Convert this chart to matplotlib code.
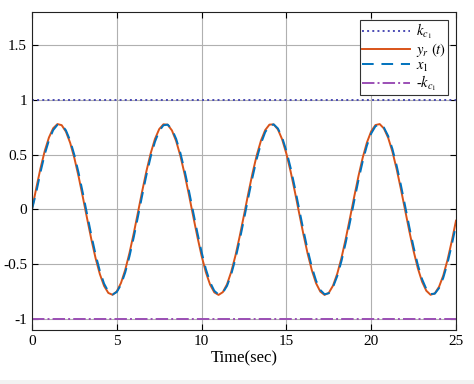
import matplotlib
matplotlib.use("Agg")
import matplotlib.pyplot as plt
from matplotlib.patches import Rectangle

plt.rcParams['font.family'] = ['Liberation Serif', 'DejaVu Serif']
plt.rcParams['mathtext.fontset'] = 'stix'

t = [i * 0.25 for i in range(101)]
y_r = [0.000, 0.193, 0.374, 0.532, 0.656, 0.740, 0.778, 0.768, 0.709, 0.607,
       0.467, 0.298, 0.110, -0.084, -0.274, -0.446, -0.590, -0.698, -0.762, -0.779,
       -0.748, -0.670, -0.550, -0.396, -0.218, -0.026, 0.168, 0.351, 0.512, 0.642,
       0.732, 0.776, 0.772, 0.720, 0.623, 0.487, 0.321, 0.136, -0.059, -0.249,
       -0.424, -0.573, -0.686, -0.757, -0.780, -0.755, -0.683, -0.568, -0.419, -0.243,
       -0.052, 0.143, 0.328, 0.493, 0.627, 0.723, 0.773, 0.775, 0.729, 0.638,
       0.507, 0.345, 0.161, -0.033, -0.225, -0.402, -0.555, -0.674, -0.750, -0.780,
       -0.761, -0.695, -0.586, -0.441, -0.267, -0.078, 0.117, 0.304, 0.472, 0.611,
       0.712, 0.769, 0.778, 0.738, 0.653, 0.527, 0.368, 0.186, -0.007, -0.200,
       -0.380, -0.537, -0.660, -0.742, -0.779, -0.766, -0.706, -0.603, -0.461, -0.291,
       -0.103]
x1 = [0.000, 0.155, 0.338, 0.501, 0.631, 0.723, 0.771, 0.770, 0.721, 0.628,
      0.495, 0.332, 0.148, -0.045, -0.236, -0.412, -0.561, -0.677, -0.749, -0.776,
      -0.754, -0.686, -0.574, -0.427, -0.254, -0.065, 0.129, 0.315, 0.480, 0.616,
      0.714, 0.767, 0.773, 0.731, 0.643, 0.514, 0.354, 0.173, -0.020, -0.211,
      -0.389, -0.543, -0.664, -0.743, -0.776, -0.760, -0.698, -0.591, -0.449, -0.278,
      -0.090, 0.104, 0.291, 0.460, 0.600, 0.704, 0.763, 0.775, 0.738, 0.656,
      0.533, 0.378, 0.198, 0.006, -0.187, -0.367, -0.525, -0.650, -0.735, -0.774,
      -0.765, -0.708, -0.608, -0.470, -0.302, -0.116, 0.078, 0.267, 0.439, 0.583,
      0.692, 0.758, 0.776, 0.746, 0.670, 0.552, 0.400, 0.223, 0.032, -0.162,
      -0.344, -0.506, -0.636, -0.726, -0.772, -0.769, -0.718, -0.624, -0.490, -0.325,
      -0.141]
k_c1 = 1.0

x_ticks = [0, 5, 10, 15, 20, 25]
y_ticks = [-1, -0.5, 0, 0.5, 1, 1.5]
y_tick_labels = ['-1', '-0.5', '0', '0.5', '1', '1.5']

fig = plt.figure(figsize=(4.74, 3.84), dpi=100)
fig.patches.append(Rectangle((0, 0), 1, 4 / 384, transform=fig.transFigure,
                             facecolor='#f2f2f2', edgecolor='none', zorder=0))
ax = fig.add_axes([32 / 474, 54 / 384, 424 / 474, 318 / 384])

ax.plot([t[0], t[-1]], [k_c1, k_c1], linestyle=':', color='#4b4bb4', lw=1.4,
        label=r'$k_{c_1}$')
ax.plot(t, y_r, '-', color='#D95319', lw=1.4, label=r'$y_r\ (t)$')
ax.plot(t, x1, linestyle=(0, (6, 4)), color='#0072BD', lw=1.4, label=r'$x_1$')
ax.plot([t[0], t[-1]], [-k_c1, -k_c1], linestyle='-.', color='#9b4fb5', lw=1.4,
        label=r'-$k_{c_1}$')

ax.set_xlim(0, 25)
ax.set_ylim(-1.1, 1.8)
ax.set_xticks(x_ticks)
ax.set_yticks(y_ticks)
ax.set_yticklabels(y_tick_labels)
ax.grid(True, color='#b0b0b0', lw=0.8)
ax.set_axisbelow(True)
ax.tick_params(direction='in', top=True, right=True, length=4, labelsize=11,
               width=0.8)
for s in ax.spines.values():
    s.set_linewidth(0.8)
    s.set_color('#222222')
ax.set_xlabel('Time(sec)', fontsize=12, labelpad=2)

leg = ax.legend(loc='upper right', fontsize=10.5, handlelength=3.3, fancybox=False,
                framealpha=1, edgecolor='#333333', borderpad=0.12,
                labelspacing=0.0, handletextpad=0.4, borderaxespad=0.55)
leg.get_frame().set_linewidth(0.8)

fig.savefig('out.png', dpi=100)
